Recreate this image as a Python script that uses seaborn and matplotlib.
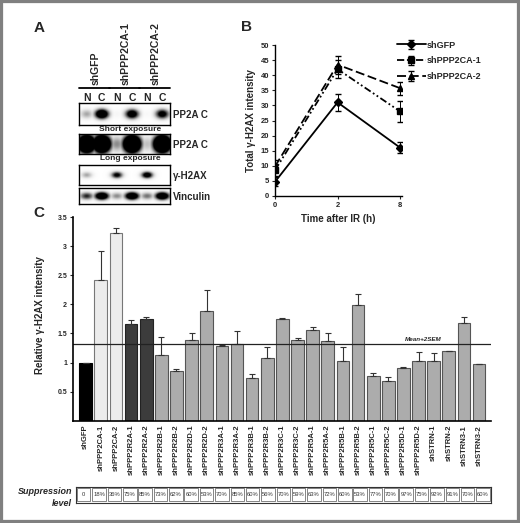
import numpy as np
import matplotlib
matplotlib.use('Agg')
import matplotlib.pyplot as plt
import seaborn as sns
from matplotlib.patches import Rectangle
from matplotlib.lines import Line2D

# ---- panel A: blot band intensities (lanes N, C, N, C, N, C) ----
blot_groups = ['shGFP', 'shPPP2CA-1', 'shPPP2CA-2']
lane_labels = ['N', 'C', 'N', 'C', 'N', 'C']
blot_names = ['PP2A C', 'PP2A C', 'γ-H2AX', 'Vinculin']
blot_notes = ['Short exposure', 'Long exposure', '', '']
short_exp = [0.25, 1.0, 0.04, 0.8, 0.03, 0.7]
long_exp = [1.0, 1.0, 0.18, 1.0, 0.12, 1.0]
h2ax_band = [0.3, 0.0, 0.75, 0.0, 0.9, 0.0]
vinculin_band = [0.5, 1.0, 0.3, 1.0, 0.35, 1.0]

# ---- panel B ----
times = ['0', '2', '8']
gfp = [4.7, 31.0, 16.0]
gfp_err = [1.5, 2.7, 1.8]
ca1 = [8.5, 42.0, 28.0]
ca1_err = [2.0, 3.0, 3.6]
ca2 = [9.8, 43.5, 35.7]
ca2_err = [2.0, 3.0, 2.2]

# ---- panel C ----
shrna = ['shGFP', 'shPPP2CA-1', 'shPPP2CA-2', 'shPPP2R2A-1', 'shPPP2R2A-2',
         'shPPP2R2B-1', 'shPPP2R2B-2', 'shPPP2R2D-1', 'shPPP2R2D-2',
         'shPPP2R3A-1', 'shPPP2R3A-2', 'shPPP2R3B-1', 'shPPP2R3B-2',
         'shPPP2R3C-1', 'shPPP2R3C-2', 'shPPP2R5A-1', 'shPPP2R5A-2',
         'shPPP2R5B-1', 'shPPP2R5B-2', 'shPPP2R5C-1', 'shPPP2R5C-2',
         'shPPP2R5D-1', 'shPPP2R5D-2', 'shSTRN-1', 'shSTRN-2',
         'shSTRN3-1', 'shSTRN3-2']
rel_h2ax = [1.00, 2.42, 3.23, 1.66, 1.74, 1.13, 0.86, 1.38, 1.89, 1.29, 1.31,
            0.74, 1.07, 1.74, 1.38, 1.56, 1.37, 1.03, 1.99, 0.76, 0.69, 0.91,
            1.03, 1.02, 1.19, 1.68, 0.97]
rel_err = [0.0, 0.50, 0.08, 0.07, 0.04, 0.30, 0.02, 0.12, 0.36, 0.01, 0.23,
           0.06, 0.19, 0.02, 0.04, 0.05, 0.13, 0.24, 0.19, 0.06, 0.06, 0.01,
           0.15, 0.14, 0.01, 0.10, 0.01]
mean_2sem = 1.31
suppression = ['0', '18%', '36%', '75%', '85%', '73%', '62%', '60%', '53%',
               '70%', '85%', '60%', '56%', '70%', '59%', '63%', '72%', '60%',
               '53%', '77%', '70%', '97%', '75%', '92%', '91%', '70%', '60%']

sns.set_theme(style='ticks')
plt.rcParams['font.family'] = ['Liberation Sans', 'DejaVu Sans']
plt.rcParams['font.weight'] = 'bold'
plt.rcParams['axes.labelweight'] = 'bold'

W, H = 520, 523
fig = plt.figure(figsize=(W / 100, H / 100), dpi=100)


def fx(x):
    return x / W


def fy(y):
    return 1 - y / H


def px_axes(x0, y0, x1, y1):
    ax = fig.add_axes([fx(x0), fy(y1), (x1 - x0) / W, (y1 - y0) / H])
    ax.patch.set_visible(False)
    return ax


# outer frame
fig.patches.append(Rectangle((0, 0), 1, 1, transform=fig.transFigure, fill=False,
                             ec='#808080', lw=4.5))

# ---------------- panel A ----------------
fig.text(fx(39), fy(28), 'A', fontsize=11, fontweight='bold', ha='center', va='center')
bx0, bx1 = 79, 170
lane_w = (bx1 - bx0) / 6
lane_cx = [bx0 + lane_w * (i + 0.5) for i in range(6)]
for g, name in enumerate(blot_groups):
    cx = (lane_cx[2 * g] + lane_cx[2 * g + 1]) / 2
    fig.text(fx(cx + 1), fy(85), name, rotation=90, ha='center', va='bottom', fontsize=7.5)
    fig.add_artist(Line2D([fx(lane_cx[2 * g] - 8), fx(lane_cx[2 * g + 1] + 8)],
                          [fy(87.5), fy(87.5)], color='black', lw=1.3))
for i, lab in enumerate(lane_labels):
    fig.text(fx(lane_cx[i]), fy(98), lab, ha='center', va='center', fontsize=7.5)

blots = [short_exp, long_exp, h2ax_band, vinculin_band]
blot_rows = [(103, 125), (134, 154), (165, 185), (188, 204)]
blot_shape = [(0.45, 0.22, 1.8), (0.55, 0.42, 3.0), (0.38, 0.17, 1.5), (0.46, 0.24, 1.8)]
xg = np.linspace(-0.5, 5.5, 240)
yg = np.linspace(0, 1, 60)
XX, YY = np.meshgrid(xg, yg)
for band, (y0, y1), (sx, sy, gain), name, note in zip(blots, blot_rows, blot_shape,
                                                      blot_names, blot_notes):
    ax = px_axes(bx0, y0, bx1, y1)
    img = np.zeros_like(XX)
    for i, v in enumerate(band):
        img = np.maximum(img, v * gain * np.exp(-((XX - i) / sx) ** 2 - ((YY - 0.5) / sy) ** 2))
    ax.imshow(np.clip(img, 0, 1), extent=(-0.5, 5.5, 0, 1), aspect='auto',
              cmap='Greys', vmin=0, vmax=1.0, interpolation='bilinear')
    ax.set_xticks([])
    ax.set_yticks([])
    for s in ax.spines.values():
        s.set_color('black')
        s.set_linewidth(1.0)
    fig.text(fx(173), fy((y0 + y1) / 2 + 1), name, ha='left', va='center', fontsize=7)
    if note:
        fig.text(fx(130), fy(y1 + 4.5), note, ha='center', va='center', fontsize=6)

# ---------------- panel B ----------------
fig.text(fx(247), fy(27), 'B', fontsize=11, fontweight='bold', ha='center', va='center')
axb = px_axes(275, 45, 402, 196)
xpos = np.arange(len(times))
axb.errorbar(xpos, gfp, yerr=gfp_err, color='black', lw=1.3, marker='D', ms=4.5,
             capsize=2, elinewidth=0.7, label='shGFP')
axb.errorbar(xpos, ca1, yerr=ca1_err, color='black', lw=1.3, marker='s', ms=4.5,
             capsize=2, elinewidth=0.7, dashes=(4, 1.5, 1, 1.5, 1, 1.5), label='shPPP2CA-1')
axb.errorbar(xpos, ca2, yerr=ca2_err, color='black', lw=1.3, marker='^', ms=5,
             capsize=2, elinewidth=0.7, dashes=(5, 2), label='shPPP2CA-2')
axb.set_xlim(0, 2.03)
axb.set_ylim(0, 50)
axb.set_yticks(range(0, 51, 5))
axb.set_xticks(xpos)
axb.set_xticklabels(times)
axb.tick_params(labelsize=5.5, length=2.5, width=0.8, pad=1.5)
sns.despine(ax=axb)
for s in ['left', 'bottom']:
    axb.spines[s].set_color('black')
    axb.spines[s].set_linewidth(1.0)
axb.set_ylabel('Total γ-H2AX intensity', fontsize=7)
axb.yaxis.set_label_coords(-0.15, 0.5)
axb.set_xlabel('Time after IR (h)', fontsize=7)
axb.xaxis.set_label_coords(0.5, -0.12)
axb.legend(loc='upper left', bbox_to_anchor=(fx(393), fy(37)),
           bbox_transform=fig.transFigure, frameon=False, fontsize=6.5,
           handlelength=3.2, labelspacing=0.75, handletextpad=0.15, borderaxespad=0)

# ---------------- panel C ----------------
fig.text(fx(39), fy(213), 'C', fontsize=11, fontweight='bold', ha='center', va='center')
axc = px_axes(72.7, 217, 490.7, 420.7)
bar_colors = ['#000000', '#ececec', '#ececec', '#3c3c3c', '#3c3c3c'] + ['#acacac'] * 22
edge_colors = ['#000000', '#777777', '#777777', '#222222', '#222222'] + ['#555555'] * 22
sns.barplot(x=shrna, y=rel_h2ax, hue=shrna, palette=bar_colors, legend=False,
            width=0.84, ax=axc, linewidth=0.8, saturation=1)
for patch, ec in zip(axc.patches, edge_colors):
    patch.set_edgecolor(ec)
axc.errorbar(np.arange(len(shrna)), rel_h2ax, yerr=[np.zeros(len(shrna)), rel_err],
             fmt='none', ecolor='#333333', elinewidth=0.8, capsize=2.5, capthick=0.8)
axc.axhline(mean_2sem, color='#222222', lw=0.9)
axc.text(0.795, mean_2sem + 0.05, 'Mean+2SEM', transform=axc.get_yaxis_transform(),
         fontsize=4.5, fontstyle='italic', ha='left', va='bottom')
axc.set_xlim(-0.86, len(shrna) - 0.23)
axc.set_ylim(0, 3.5)
axc.set_yticks(np.arange(0.5, 3.51, 0.5))
axc.set_yticklabels(['0.5', '1', '1.5', '2', '2.5', '3', '3.5'])
axc.tick_params(axis='y', labelsize=5, length=2.5, width=0.8, pad=1.5)
axc.tick_params(axis='x', labelsize=5.5, length=0, pad=3, rotation=90)
sns.despine(ax=axc)
for s in ['left', 'bottom']:
    axc.spines[s].set_color('black')
    axc.spines[s].set_linewidth(1.2)
axc.set_ylabel('Relative γ-H2AX intensity', fontsize=7)
axc.yaxis.set_label_coords(-0.066, 0.52)
axc.set_xlabel('')

# suppression table
axt = px_axes(76, 486.7, 490.7, 502.7)
for i, s in enumerate(suppression):
    axt.add_patch(Rectangle((i + 0.06, 0.08), 0.88, 0.84, fill=False, ec='#555555', lw=0.5))
    axt.text(i + 0.5, 0.5, s, ha='center', va='center', fontsize=4.2,
             fontweight='normal', color='#333333')
axt.set_xlim(0, len(suppression))
axt.set_ylim(0, 1)
axt.set_xticks([])
axt.set_yticks([])
for s in axt.spines.values():
    s.set_color('#333333')
    s.set_linewidth(0.8)
fig.text(fx(72), fy(491), 'Suppression', ha='right', va='center', fontsize=6.5,
         fontstyle='italic')
fig.text(fx(72), fy(503), 'level', ha='right', va='center', fontsize=6.5,
         fontstyle='italic')

fig.savefig('out.png', dpi=100)
